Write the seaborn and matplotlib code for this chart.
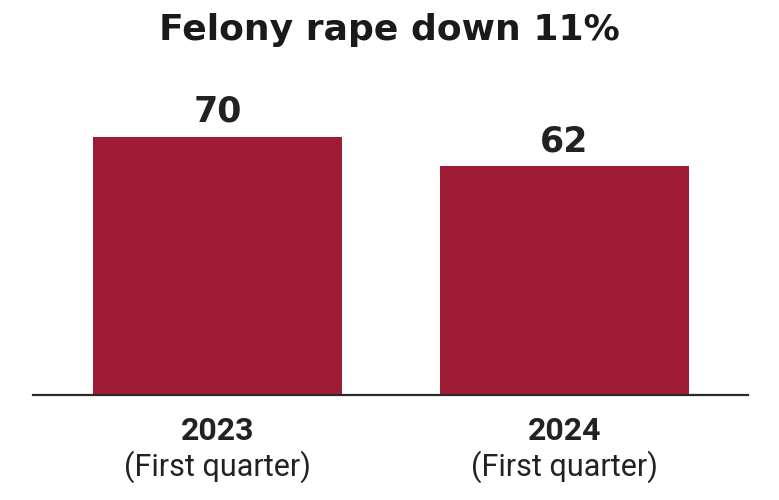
import matplotlib
matplotlib.use("Agg")
import matplotlib.pyplot as plt
import seaborn as sns
import pandas as pd
from matplotlib import font_manager

years = ["2023", "2024"]
subtitles = ["(First quarter)", "(First quarter)"]
values = [70, 62]
title = "Felony rape down 11%"

sns.set_theme(style="white")
names = {f.name for f in font_manager.fontManager.ttflist}
narrow = "Liberation Sans Narrow" if "Liberation Sans Narrow" in names else "Roboto"
plt.rcParams['font.family'] = ['DejaVu Sans']

df = pd.DataFrame({"year": years, "value": values})

fig = plt.figure(figsize=(7.79, 5.0), dpi=100)
ax = fig.add_axes([33/779, 105/500, 715/779, 295/500])
sns.barplot(data=df, x="year", y="value", color="#9E1B34", width=0.718,
            saturation=1, ax=ax, edgecolor="none")
ax.set_xlim(-0.532, 1.529)
ax.set_ylim(0, 80)
for s in ["top", "right", "left"]:
    ax.spines[s].set_visible(False)
ax.spines["bottom"].set_color("#2a2a2a")
ax.spines["bottom"].set_linewidth(1.6)
ax.set_yticks([])
ax.set_xlabel("")
ax.set_ylabel("")
ax.tick_params(axis="x", length=0, pad=15)
ax.set_xticks(range(len(years)))
ax.set_xticklabels(years, fontfamily=narrow, fontweight="bold", fontsize=23, color="#222222")
for i, (v, sub) in enumerate(zip(values, subtitles)):
    ax.annotate(str(v), xy=(i, v), xytext=(0, 6), textcoords="offset points",
                ha="center", va="bottom", fontsize=25, fontweight="bold", color="#222222")
    ax.annotate(sub, xy=(i, 0), xycoords=("data", "axes fraction"), xytext=(0, -40),
                textcoords="offset points", ha="center", va="top",
                fontfamily=narrow, fontsize=22, color="#222222")

fig.text(0.5, 1 - 30/500, title, ha="center", va="center", fontsize=26,
         fontweight="heavy", color="#1a1a1a")
fig.savefig("out.png", dpi=100, facecolor="white")
